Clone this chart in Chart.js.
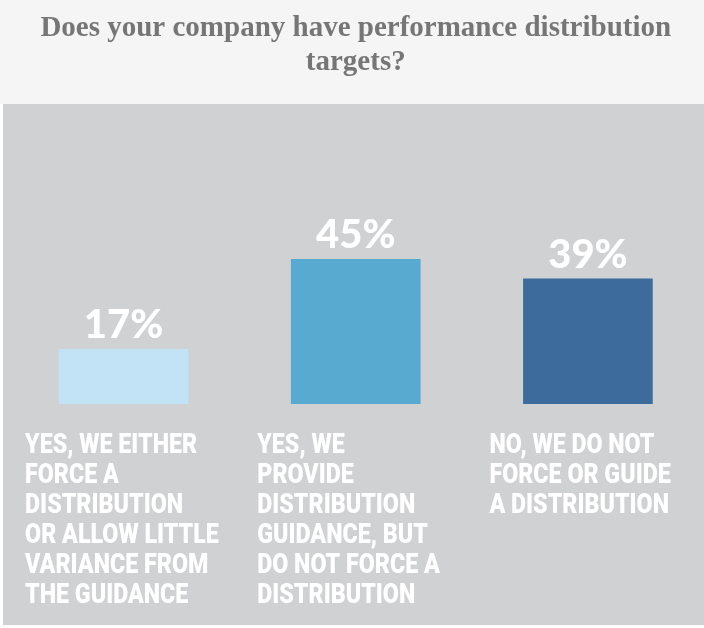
<!DOCTYPE html>
<html>
<head>
    <title>Performance distribution targets</title>
    <style>
        html, body {
            margin: 0;
            padding: 0;
            background: #ffffff;
        }
        #chart {
            display: block;
        }
    </style>
    <script src="https://cdn.jsdelivr.net/npm/chart.js"></script>
</head>
<body>
    <canvas id="chart" width="704" height="628"></canvas>

    <script>
        // Survey answers (one array of lines per bar) and their shares in %
        const answers = [
            ['YES, WE EITHER', 'FORCE A', 'DISTRIBUTION', 'OR ALLOW LITTLE', 'VARIANCE FROM', 'THE GUIDANCE'],
            ['YES, WE', 'PROVIDE', 'DISTRIBUTION', 'GUIDANCE, BUT', 'DO NOT FORCE A', 'DISTRIBUTION'],
            ['NO, WE DO NOT', 'FORCE OR GUIDE', 'A DISTRIBUTION']
        ];
        const shares = [17, 45, 39];
        const barColors = ['#c2e3f6', '#58aad0', '#3d6b9b'];
        const titleLines = ['Does your company have performance distribution', 'targets?'];

        // Panels behind the chart: light band for the title, grey panel for the bars
        const backdrop = {
            id: 'backdrop',
            beforeDraw(chart) {
                const ctx = chart.ctx;
                ctx.save();
                ctx.fillStyle = '#f5f5f5';
                ctx.fillRect(0, 0, chart.width, 104);
                ctx.fillStyle = '#d0d1d3';
                ctx.fillRect(3, 104, chart.width - 3, 521);
                ctx.restore();
            }
        };

        // Percent above each bar and the condensed answer text below it
        const barText = {
            id: 'barText',
            afterDatasetsDraw(chart) {
                const ctx = chart.ctx;
                const meta = chart.getDatasetMeta(0);
                const bottom = chart.chartArea.bottom;
                ctx.save();
                ctx.fillStyle = '#ffffff';
                meta.data.forEach((bar, i) => {
                    ctx.font = '900 40px Lato';
                    ctx.textAlign = 'center';
                    ctx.textBaseline = 'alphabetic';
                    ctx.fillText(shares[i] + '%', bar.x, bar.y - 11);

                    const left = bar.x - bar.width / 2 - 34;
                    ctx.font = '900 28px Roboto';
                    ctx.textAlign = 'left';
                    answers[i].forEach((line, k) => {
                        ctx.save();
                        ctx.translate(left, bottom + 49 + k * 30);
                        ctx.scale(0.83, 1);
                        ctx.fillText(line, 0, 0);
                        ctx.restore();
                    });
                });
                ctx.restore();
            }
        };

        new Chart(document.getElementById('chart'), {
            type: 'bar',
            data: {
                labels: answers,
                datasets: [{
                    data: shares,
                    backgroundColor: barColors,
                    borderWidth: 0,
                    barThickness: 129
                }]
            },
            options: {
                responsive: false,
                animation: false,
                layout: {
                    padding: { left: 7.5, right: 0, top: 0, bottom: 224 }
                },
                scales: {
                    x: { display: false },
                    y: { display: false, min: 0, max: 90 }
                },
                plugins: {
                    legend: { display: false },
                    tooltip: { enabled: false },
                    title: {
                        display: true,
                        text: titleLines,
                        color: '#767676',
                        font: { family: 'Liberation Serif', size: 29, weight: 'bold', lineHeight: 1.17 },
                        padding: { top: 12, bottom: 35 }
                    }
                }
            },
            plugins: [backdrop, barText]
        });
    </script>
</body>
</html>
